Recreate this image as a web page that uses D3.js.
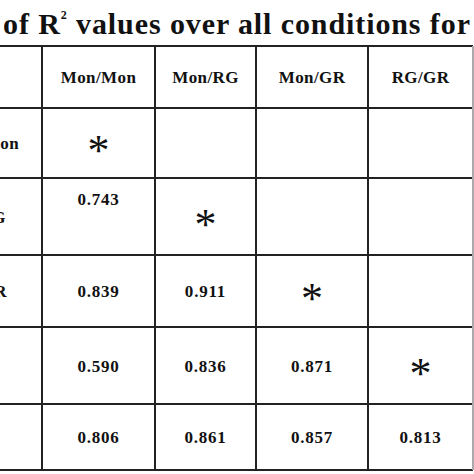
<!DOCTYPE html>
<html><head><meta charset="utf-8">
<script src="https://cdn.jsdelivr.net/npm/d3@7"></script>
<style>body{margin:0;background:#fff}svg{display:block}</style>
</head><body>
<script>
const columns = ["Mon/Mon","Mon/RG","Mon/GR","RG/GR"];
const rowLabels = ["Mon/Mon","Mon/RG","Mon/GR","RG/GR","All"];
const values = [
  ["*","","",""],
  ["0.743","*","",""],
  ["0.839","0.911","*",""],
  ["0.590","0.836","0.871","*"],
  ["0.806","0.861","0.857","0.813"]
];
const W=474,H=474;
const svg=d3.select("body").append("svg").attr("width",W).attr("height",H);
const font="'Liberation Serif','DejaVu Serif',serif";
const xEdges=[-80,42,155,256,368,473];
const yEdges=[46,108,178,255,327,404,470];
const t=svg.append("text").attr("x",3).attr("y",34).attr("font-family",font).attr("font-weight","bold").attr("font-size",30).attr("letter-spacing",0.9).attr("fill","#111");
t.append("tspan").text("of R");
t.append("tspan").attr("font-size",12).attr("dy",-15).text("2");
t.append("tspan").attr("dy",15).text(" values over all conditions for");
const g=svg.append("g");
g.selectAll("line.h").data(yEdges).join("line").attr("x1",0).attr("x2",473).attr("y1",d=>d).attr("y2",d=>d).attr("stroke","#222").attr("stroke-width",2);
g.selectAll("line.v").data(xEdges.slice(1,5)).join("line").attr("x1",d=>d).attr("x2",d=>d).attr("y1",46).attr("y2",470).attr("stroke","#222").attr("stroke-width",2);
g.append("line").attr("x1",473).attr("x2",473).attr("y1",46).attr("y2",470).attr("stroke","#aaa").attr("stroke-width",2);
const cx=i=>(xEdges[i+1]+xEdges[i+2])/2, cy=j=>(yEdges[j]+yEdges[j+1])/2;
g.selectAll("text.hd").data(columns).join("text").attr("x",(d,i)=>cx(i)).attr("y",cy(0)+6).attr("text-anchor","middle")
 .attr("font-family",font).attr("font-weight","bold").attr("font-size",17).attr("letter-spacing",0.4).attr("fill","#111").text(d=>d);
const labelEnd=[19,6,7,-30,-30];
g.selectAll("text.rl").data(rowLabels).join("text").attr("x",(d,i)=>labelEnd[i]).attr("y",(d,i)=>cy(i+1)+6).attr("text-anchor","end")
 .attr("font-family",font).attr("font-weight","bold").attr("font-size",17).attr("letter-spacing",0.4).attr("fill","#111").text(d=>d);
values.forEach((row,j)=>{
  row.forEach((v,i)=>{
    if(!v) return;
    const star=v==="*";
    g.append("text").attr("x",cx(i)).attr("y",star?cy(j+1)+22:cy(j+1)+(j===1?-12:6))
     .attr("text-anchor","middle").attr("font-family",font).attr("font-weight",star?"normal":"bold")
     .attr("font-size",star?44:17).attr("letter-spacing",star?0:0.8).attr("fill","#111").text(v);
  });
});
</script>
</body></html>
